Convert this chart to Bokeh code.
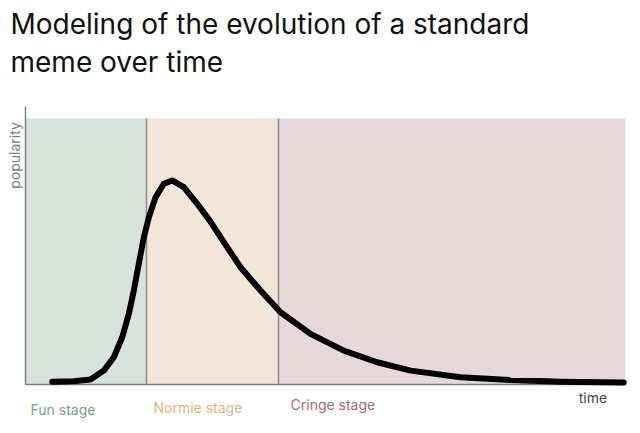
import math
from bokeh.plotting import figure
from bokeh.models import Range1d
from bokeh.embed import file_html
from bokeh.resources import INLINE

# ---- data ----
title_lines = ["Modeling of the evolution of a standard", "meme over time"]
stage_names = ["Fun stage", "Normie stage", "Cringe stage"]
stage_starts = [0.0, 20.17, 42.17]
stage_ends = [20.17, 42.17, 100.0]
stage_top = 95.7
axis_top = 100.0
stage_fill = ["#d8e2dc", "#f1e6d8", "#e7d9db"]
stage_text_color = ["#78a07e", "#d6b87e", "#9e6b78"]
stage_label_x = [0.83, 21.33, 44.17]
stage_label_y = [-9.0, -8.3, -7.2]

time_x = [4.45, 8.05, 10.83, 13.05, 14.72, 16.12, 17.22, 18.05, 18.88, 19.72, 20.55,
          21.67, 23.05, 24.45, 26.38, 28.62, 30.83, 32.5, 35.83, 39.17, 42.5, 47.5,
          53.05, 58.6, 64.2, 72.5, 80.8, 89.2, 99.7]
popularity = [1.0, 1.2, 1.8, 5.0, 9.8, 17.0, 25.4, 33.8, 43.4, 52.9, 60.1,
              67.3, 72.2, 73.4, 71.0, 65.0, 58.6, 53.0, 42.2, 33.8, 26.0, 18.2,
              12.2, 8.0, 5.0, 2.6, 1.6, 1.0, 0.7]

FONT = "Inter"

W, H = 640, 433
# page px -> data: x = (px - 25) / 6 ; y = (384 - py) / 2.78
p = figure(width=W, height=H, output_backend="svg", toolbar_location=None,
           x_range=Range1d(-25 / 6, (W - 25) / 6), y_range=Range1d((384 - H) / 2.78, 384 / 2.78),
           min_border=0)
p.axis.visible = False
p.xgrid.visible = False
p.ygrid.visible = False
p.outline_line_color = None
p.background_fill_color = "white"
p.border_fill_color = "white"

p.quad(left=stage_starts, right=stage_ends, bottom=[0, 0, 0], top=[stage_top] * 3,
       fill_color=stage_fill, line_color=None)
p.segment(x0=stage_starts[1:], x1=stage_starts[1:], y0=[0, 0], y1=[stage_top] * 2,
          line_color="#8c8c8c", line_width=1.5)

# axis lines
p.segment(x0=[0, 0], x1=[0, 100], y0=[0, 0], y1=[axis_top, 0],
          line_color="#7f7f7f", line_width=1.5)

p.line(time_x, popularity, line_color="black", line_width=6,
       line_join="round", line_cap="round")

p.text(x=stage_label_x, y=stage_label_y, text=stage_names, text_color=stage_text_color,
       text_font={"value": FONT}, text_font_size={"value": "14px"},
       text_baseline="middle", text_align="left")

p.text(x=[92.2], y=[-4.7], text=["time"], text_color="#444444",
       text_font={"value": FONT}, text_font_size={"value": "14px"},
       text_baseline="middle", text_align="left")
p.text(x=[-1.83], y=[82.4], text=["popularity"], text_color="#808080",
       text_font={"value": FONT}, text_font_size={"value": "14px"},
       text_baseline="middle", text_align="center", angle=math.pi / 2)

p.text(x=[-2.5, -2.5], y=[129.6, 115.9], text=title_lines, text_color="#111111",
       text_font={"value": FONT}, text_font_size={"value": "28px"},
       text_baseline="alphabetic", text_align="left")

open("out.html", "w").write(file_html(p, INLINE))
